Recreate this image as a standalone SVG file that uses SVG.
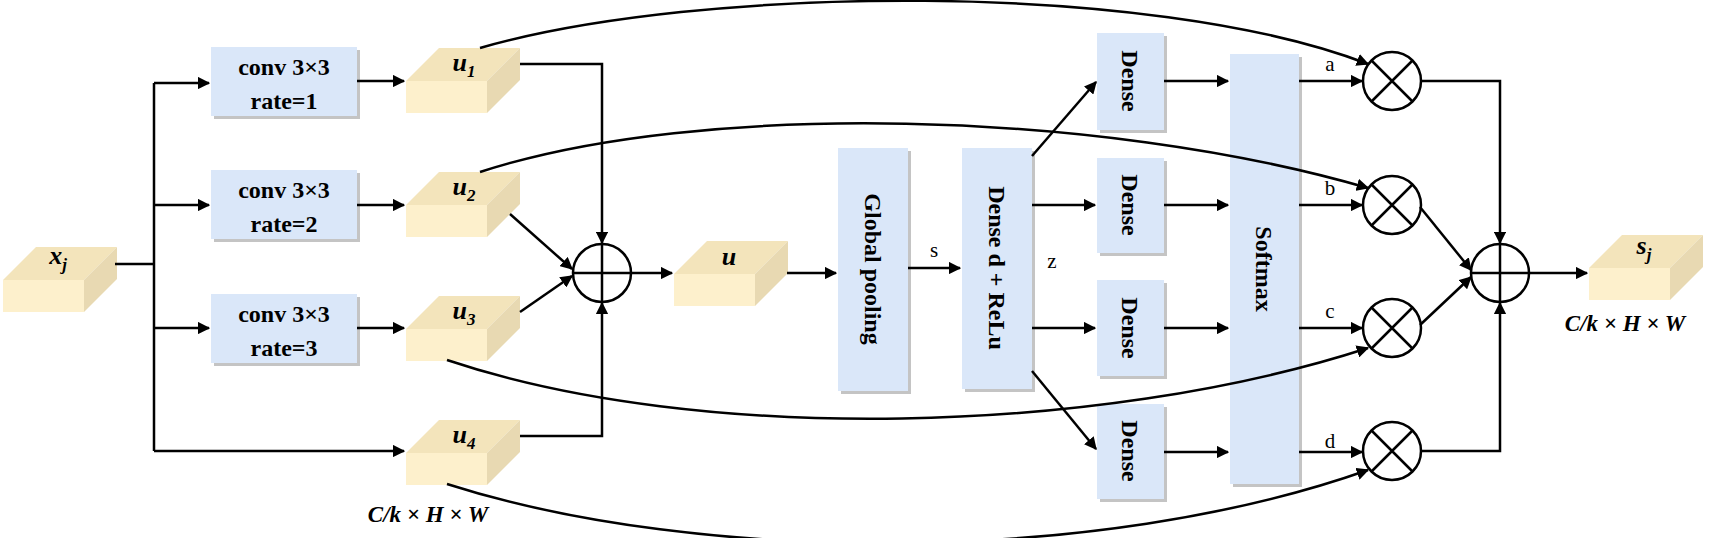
<svg xmlns="http://www.w3.org/2000/svg" width="1720" height="538" viewBox="0 0 1720 538">
<defs>
<marker id="ar" viewBox="0 0 10 10" refX="9" refY="5" markerWidth="5" markerHeight="5" orient="auto" markerUnits="strokeWidth"><path d="M0,0L10,5L0,10z" fill="#000"/></marker>
<g id="cube"><path d="M0,0h81v32h-81z" fill="#fdf0cc"/><path d="M0,0l33,-33h81l-33,33z" fill="#f3e4bb"/><path d="M81,0l33,-33v32l-33,33z" fill="#e8d9b2"/></g>
</defs>
<style>
.box{fill:#dae7f9}.sh{fill:#c4c4c4}
.t{font-family:"Liberation Serif",serif;font-weight:bold;font-size:24px;text-anchor:middle;fill:#000}
.l{font-family:"Liberation Serif",serif;font-size:21px;text-anchor:middle;fill:#000}
.m{font-family:"Liberation Serif",serif;font-style:italic;font-weight:bold;font-size:26px;text-anchor:middle}
.d{font-family:"Liberation Serif",serif;font-style:italic;font-weight:bold;font-size:23px;text-anchor:middle}
.c{fill:none;stroke:#000;stroke-width:2.5}
#conn path{fill:none;stroke:#000;stroke-width:2.5}
.a{marker-end:url(#ar)}
</style>
<rect width="1720" height="538" fill="#fff"/>
<g id="xj"><use href="#cube" x="3" y="280"/><text class="m" x="58" y="264">x<tspan font-size="17" dy="6">j</tspan></text></g>
<g id="conv1"><rect class="sh" x="214" y="50" width="146" height="69"/><rect class="box" x="211" y="47" width="146" height="69"/><text class="t" x="284" y="75">conv 3×3</text><text class="t" x="284" y="109">rate=1</text></g>
<g id="conv2"><rect class="sh" x="214" y="173" width="146" height="69"/><rect class="box" x="211" y="170" width="146" height="69"/><text class="t" x="284" y="198">conv 3×3</text><text class="t" x="284" y="232">rate=2</text></g>
<g id="conv3"><rect class="sh" x="214" y="297" width="146" height="69"/><rect class="box" x="211" y="294" width="146" height="69"/><text class="t" x="284" y="322">conv 3×3</text><text class="t" x="284" y="356">rate=3</text></g>
<g id="u1"><use href="#cube" x="406" y="81"/><text class="m" x="464" y="71">u<tspan font-size="17" dy="6">1</tspan></text></g>
<g id="u2"><use href="#cube" x="406" y="205"/><text class="m" x="464" y="195">u<tspan font-size="17" dy="6">2</tspan></text></g>
<g id="u3"><use href="#cube" x="406" y="329"/><text class="m" x="464" y="319">u<tspan font-size="17" dy="6">3</tspan></text></g>
<g id="u4"><use href="#cube" x="406" y="453"/><text class="m" x="464" y="443">u<tspan font-size="17" dy="6">4</tspan></text></g>
<text class="d" x="428" y="522">C/k × H × W</text>
<g id="sum1"><circle class="c" cx="602" cy="273" r="29"/><path class="c" d="M573,273H631M602,244V302"/></g>
<g id="u"><use href="#cube" x="674" y="274"/><text class="m" x="729" y="265">u</text></g>
<g id="gp"><rect class="sh" x="841" y="151" width="70" height="243"/><rect class="box" x="838" y="148" width="70" height="243"/><text class="t" transform="translate(873,269) rotate(90)" dy="8">Global pooling</text></g>
<text class="l" x="934" y="257">s</text>
<g id="dr"><rect class="sh" x="965" y="151" width="70" height="241"/><rect class="box" x="962" y="148" width="70" height="241"/><text class="t" transform="translate(997,268) rotate(90)" dy="8">Dense d + ReLu</text></g>
<text class="l" x="1052" y="268">z</text>
<g id="dense1"><rect class="sh" x="1100" y="36" width="67" height="97"/><rect class="box" x="1097" y="33" width="67" height="97"/><text class="t" transform="translate(1130,81) rotate(90)" dy="8">Dense</text></g>
<g id="dense2"><rect class="sh" x="1100" y="161" width="67" height="95"/><rect class="box" x="1097" y="158" width="67" height="95"/><text class="t" transform="translate(1130,205) rotate(90)" dy="8">Dense</text></g>
<g id="dense3"><rect class="sh" x="1100" y="283" width="67" height="96"/><rect class="box" x="1097" y="280" width="67" height="96"/><text class="t" transform="translate(1130,328) rotate(90)" dy="8">Dense</text></g>
<g id="dense4"><rect class="sh" x="1100" y="407" width="67" height="95"/><rect class="box" x="1097" y="404" width="67" height="95"/><text class="t" transform="translate(1130,451) rotate(90)" dy="8">Dense</text></g>
<g id="softmax"><rect class="sh" x="1233" y="57" width="69" height="430"/><rect class="box" x="1230" y="54" width="69" height="430"/><text class="t" transform="translate(1264,269) rotate(90)" dy="8">Softmax</text></g>
<text class="l" x="1330" y="71">a</text><text class="l" x="1330" y="195">b</text><text class="l" x="1330" y="318">c</text><text class="l" x="1330" y="448">d</text>
<g id="m1"><circle class="c" cx="1392" cy="81" r="29"/><path class="c" d="M1372,61L1412,101M1412,61L1372,101"/></g>
<g id="m2"><circle class="c" cx="1392" cy="205" r="29"/><path class="c" d="M1372,185L1412,225M1412,185L1372,225"/></g>
<g id="m3"><circle class="c" cx="1392" cy="328" r="29"/><path class="c" d="M1372,308L1412,348M1412,308L1372,348"/></g>
<g id="m4"><circle class="c" cx="1392" cy="451" r="29"/><path class="c" d="M1372,431L1412,471M1412,431L1372,471"/></g>
<g id="sum2"><circle class="c" cx="1500" cy="273" r="29"/><path class="c" d="M1471,273H1529M1500,244V302"/></g>
<g id="sj"><use href="#cube" x="1589" y="268"/><text class="m" x="1644" y="254">s<tspan font-size="17" dy="6">j</tspan></text></g>
<text class="d" x="1625" y="331">C/k × H × W</text>
<g id="conn">
<path d="M115,264H154M154,83V451"/>
<path class="a" d="M154,83H209"/><path class="a" d="M154,205H209"/><path class="a" d="M154,328H209"/><path class="a" d="M154,451H404"/>
<path class="a" d="M357,81H404"/><path class="a" d="M357,205H404"/><path class="a" d="M357,328H404"/>
<path class="a" d="M520,64H602V243"/><path class="a" d="M520,436H602V303"/>
<path class="a" d="M510,214L572,269"/><path class="a" d="M520,312L572,276"/>
<path class="a" d="M631,273H672"/><path class="a" d="M787,273H836"/><path class="a" d="M908,268H960"/>
<path class="a" d="M1032,156L1096,82"/><path class="a" d="M1032,205H1095"/><path class="a" d="M1032,328H1095"/><path class="a" d="M1032,371L1096,449"/>
<path class="a" d="M1164,81H1228"/><path class="a" d="M1164,205H1228"/><path class="a" d="M1164,328H1228"/><path class="a" d="M1164,452H1228"/>
<path class="a" d="M1299,81H1362"/><path class="a" d="M1299,205H1362"/><path class="a" d="M1299,328H1362"/><path class="a" d="M1299,452H1362"/>
<path class="a" d="M1421,81H1500V243"/><path class="a" d="M1421,451H1500V303"/>
<path class="a" d="M1420,207L1471,270"/><path class="a" d="M1420,325L1471,277"/>
<path class="a" d="M1529,273H1587"/>
<path class="a" d="M480,48C700,-15 1150,-20 1368,64"/>
<path class="a" d="M480,172C700,100 1100,110 1368,188"/>
<path class="a" d="M447,360C700,445 1100,435 1368,348"/>
<path class="a" d="M447,484C700,565 1100,565 1368,470"/>
</g>
</svg>
